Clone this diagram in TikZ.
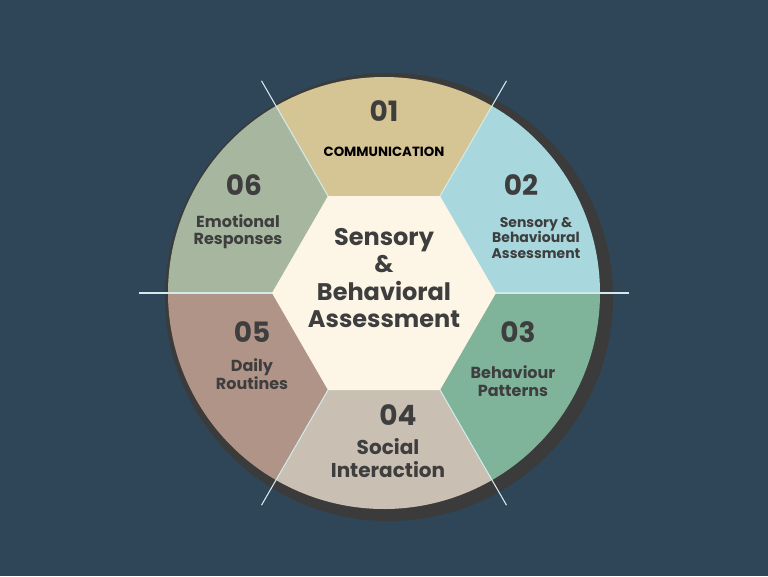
\documentclass[tikz,border=0pt]{standalone}
\usepackage{fontspec}
\setmainfont{Poppins}
\usetikzlibrary{calc}
\begin{document}
\begin{tikzpicture}[x=0.75pt,y=-0.75pt,
  num/.style={font=\fontsize{21}{24}\selectfont\bfseries,text=numc},
  lab/.style={font=\fontsize{12}{13}\selectfont\bfseries,text=numc,align=center},
  div/.style={draw=divc,line width=0.8pt}]
\definecolor{bg}{HTML}{2E4657}
\definecolor{ring}{HTML}{3B3B3B}
\definecolor{numc}{HTML}{3E3E3E}
\definecolor{divc}{HTML}{D2EAEC}
\definecolor{cA}{HTML}{D6C594}
\definecolor{cB}{HTML}{A8D8DE}
\definecolor{cC}{HTML}{7FB39A}
\definecolor{cD}{HTML}{C9BFB2}
\definecolor{cE}{HTML}{B09488}
\definecolor{cF}{HTML}{A7B69E}
\definecolor{hexc}{HTML}{FDF5E6}
\fill[bg] (0,0) rectangle (768,576);
\useasboundingbox (0,0) rectangle (768,576);
\coordinate (c) at (384,293);
\fill[ring] (389,297) circle (224);
\foreach \a/\col in {240/cA,300/cB,0/cC,60/cD,120/cE,180/cF}{
  \fill[\col] (c) -- ++(\a:216) arc[start angle=\a,end angle=\a+60,radius=216] -- cycle;}
\foreach \a in {0,60,120}{
  \draw[div] ($(c)+(\a:245)$) -- ($(c)+(\a+180:245)$);}
\fill[hexc] ($(c)+(0:112)$) -- ($(c)+(60:112)$) -- ($(c)+(120:112)$) -- ($(c)+(180:112)$) -- ($(c)+(240:112)$) -- ($(c)+(300:112)$) -- cycle;
\node[num] (n1) at (384,111) {01};
\node[font=\fontsize{10}{12}\selectfont\bfseries,text=black] (l1) at (384,152) {COMMUNICATION};
\node[num] (n2) at (521,185) {02};
\node[lab,font=\fontsize{10.5}{11.5}\selectfont\bfseries] (l2) at (536,238) {Sensory \&\\Behavioural\\Assessment};
\node[num] (n3) at (518,332) {03};
\node[lab] (l3) at (513,381) {Behaviour\\Patterns};
\node[num] (n4) at (398,415) {04};
\node[lab,font=\fontsize{15}{17}\selectfont\bfseries] (l4) at (388,458) {Social\\Interaction};
\node[num] (n5) at (252,332) {05};
\node[lab] (l5) at (252,374) {Daily\\Routines};
\node[num] (n6) at (244,185) {06};
\node[lab] (l6) at (238,232) {Emotional\\Responses};
\node[font=\fontsize{18}{20.5}\selectfont\bfseries,text=numc,align=center] (ctr) at (384,278) {Sensory\\\&\\Behavioral\\Assessment};
\end{tikzpicture}
\end{document}
